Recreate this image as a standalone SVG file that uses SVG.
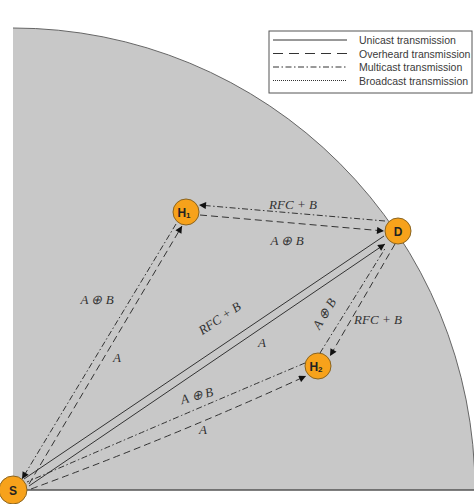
<svg xmlns="http://www.w3.org/2000/svg" width="474" height="504" viewBox="0 0 474 504">
<style>
.c{fill:none;stroke:#333;stroke-width:1}
.dash{stroke-dasharray:7,4}
.dd{stroke-dasharray:6,2.5,1.5,2.5}
.dot{stroke-dasharray:1,1}
.node{fill:#F7A21B;stroke:#8a6420;stroke-width:1}
.nl{font-family:"Liberation Sans",Arial,sans-serif;font-weight:bold;font-size:12px;fill:#222;text-anchor:middle}
.lab{font-family:"Liberation Serif","Times New Roman",serif;font-style:italic;font-size:13px;fill:#333;text-anchor:middle}
.leg{font-family:"Liberation Sans",Arial,sans-serif;font-size:10.5px;fill:#3a3a3a}
</style>
<defs>
<marker id="arr" viewBox="0 0 10 10" refX="10" refY="5" markerWidth="9" markerHeight="7" markerUnits="userSpaceOnUse" orient="auto"><path d="M0,0 L10,5 L0,10 z" fill="#111"/></marker>
</defs>
<rect width="474" height="504" fill="#fff"/>
<g id="area">
<path d="M13,28 A462,462 0 0 1 475,490 L13,490 Z" fill="#c8c8c8"/>
<path d="M13,28 A462,462 0 0 1 475,490" fill="none" stroke="#666" stroke-width="1"/>
<path d="M13,490 L474,490" stroke="#555" stroke-width="1.5"/>
</g>
<g id="legend">
<rect x="269" y="31" width="203" height="62" fill="#fff" stroke="#555" stroke-width="1"/>
<line class="c" x1="273" y1="40" x2="347" y2="40"/>
<line class="c" x1="273" y1="53.5" x2="347" y2="53.5" style="stroke-dasharray:10,6"/>
<line class="c dd" x1="273" y1="67" x2="347" y2="67"/>
<line class="c dot" x1="273" y1="80.5" x2="347" y2="80.5"/>
<text class="leg" x="359" y="44">Unicast transmission</text>
<text class="leg" x="359" y="57.5">Overheard transmission</text>
<text class="leg" x="359" y="71">Multicast transmission</text>
<text class="leg" x="359" y="84.5">Broadcast transmission</text>
</g>
<g id="connectors">
<path class="c dd" d="M176,224 L22,479" marker-end="url(#arr)"/>
<path class="c dash" d="M29,484 L182,226" marker-end="url(#arr)"/>
<path class="c dd" d="M385,221 L199,205" marker-end="url(#arr)"/>
<path class="c dash" d="M200,215 L384,231" marker-end="url(#arr)"/>
<path class="c" d="M24,479 L384,236"/>
<path class="c" d="M29,486 L385,244" marker-end="url(#arr)"/>
<path class="c dd" d="M320,353 L386,247"/>
<path class="c dash" d="M395,244 L330,356" marker-end="url(#arr)"/>
<path class="c dd" d="M305,363 Q170,420 27,482"/>
<path class="c dash" d="M31,489 Q175,436 306,376" marker-end="url(#arr)"/>
</g>
<g id="labels">
<text class="lab" x="293" y="209">RFC + B</text>
<text class="lab" x="287" y="245">A ⊕ B</text>
<text class="lab" x="97" y="304">A ⊕ B</text>
<text class="lab" x="117" y="362">A</text>
<text class="lab" transform="translate(222,322) rotate(-34)">RFC + B</text>
<text class="lab" x="262" y="347">A</text>
<text class="lab" transform="translate(328,316) rotate(-59)">A ⊕ B</text>
<text class="lab" x="378" y="324">RFC + B</text>
<text class="lab" transform="translate(198,400) rotate(-15)">A ⊕ B</text>
<text class="lab" x="203" y="434">A</text>
</g>
<g id="node-H1"><circle class="node" cx="186" cy="212" r="13"/><text class="nl" x="184" y="216.5">H<tspan font-size="8" dy="1">1</tspan></text></g>
<g id="node-D"><circle class="node" cx="398" cy="231" r="13"/><text class="nl" x="398" y="235.5">D</text></g>
<g id="node-H2"><circle class="node" cx="318" cy="366" r="13"/><text class="nl" x="316" y="370.5">H<tspan font-size="8" dy="1">2</tspan></text></g>
<g id="node-S"><circle class="node" cx="13" cy="490" r="14"/><text class="nl" x="13" y="494.5">S</text></g>
</svg>
